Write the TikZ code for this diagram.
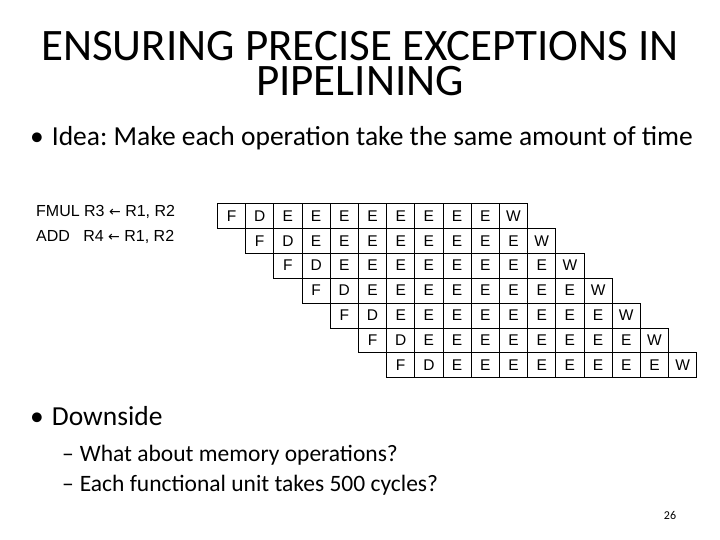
\documentclass[tikz,border=0pt]{standalone}
\usepackage{fontspec}
\setmainfont{Carlito}
\newfontfamily\arialf{Liberation Sans}
\newfontfamily\djv{DejaVu Sans}
\frenchspacing
\begin{document}
\begin{tikzpicture}[x=1pt,y=-1pt,
  cell/.style={draw,line width=0.8pt,minimum width=28.2pt,minimum height=24.9pt,inner sep=0,anchor=north west,font=\arialf\fontsize{15.5}{15.5}\selectfont},
  ttl/.style={font=\fontsize{45}{45}\selectfont,inner sep=0},
  txt/.style={inner sep=0,anchor=west}]
\useasboundingbox (0,0) rectangle (720,540);
\node[ttl] (title1) at (360,46) {ENSURING PRECISE EXCEPTIONS IN};
\node[ttl] (title2) at (360,81) {PIPELINING};
\node[txt,font=\fontsize{27.5}{27.5}\selectfont] (b1) at (30,138) {•\hspace{8pt}Idea: Make each operation take the same amount of time};
\node[txt,font=\arialf\fontsize{16}{25}\selectfont,align=left,anchor=north west] (code) at (36,205) {FMUL R3 {\djv\fontsize{14}{14}\selectfont ←} R1, R2\\ADD\ \ \ R4 {\djv\fontsize{14}{14}\selectfont ←} R1, R2};
\foreach \r in {0,...,6}{
  \foreach \c/\t in {0/F,1/D,2/E,3/E,4/E,5/E,6/E,7/E,8/E,9/E,10/W}{
    \pgfmathsetmacro\xx{217+28.2*(\r+\c)}
    \pgfmathsetmacro\yy{203+24.9*\r}
    \node[cell] (c\r-\c) at (\xx,\yy) {\t};
  }}
\node[txt,font=\fontsize{27.5}{27.5}\selectfont] (b2) at (30,416) {•\hspace{8pt}Downside};
\node[txt,font=\fontsize{23.5}{23.5}\selectfont] (s1) at (62,455) {–\hspace{6pt}What about memory operations?};
\node[txt,font=\fontsize{23.5}{23.5}\selectfont] (s2) at (62,485) {–\hspace{6pt}Each functional unit takes 500 cycles?};
\node[font=\fontsize{12}{12}\selectfont,inner sep=0] (pg) at (670,515) {26};
\end{tikzpicture}
\end{document}
